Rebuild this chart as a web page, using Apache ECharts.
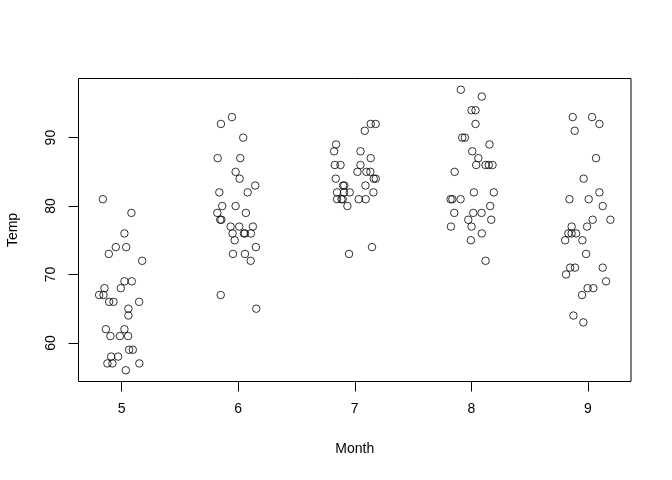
<!DOCTYPE html>
<html>
<head>
<meta charset="utf-8">
<title>Temp by Month</title>
<script src="https://cdn.jsdelivr.net/npm/echarts@6/dist/echarts.min.js"></script>
<style>
  html, body { margin: 0; padding: 0; background: #fff; }
  #chart { width: 672px; height: 480px; }
</style>
</head>
<body>
<div id="chart"></div>
<script>
// temperatures per month, with the jittered month position each point was drawn at
const mayTemp = [81, 79, 76, 74, 74, 73, 72, 69, 69, 68, 68, 67, 67, 66, 66, 66, 65, 64, 62, 62, 61, 61, 61, 59, 59, 58, 58, 57, 57, 57, 56]
const mayX = [4.839, 5.084, 5.024, 4.950, 5.039, 4.890, 5.176, 5.024, 5.087, 4.853, 4.993, 4.807, 4.844, 4.893, 4.930, 5.150, 5.058, 5.058, 4.865, 5.024, 4.904, 4.985, 5.056, 5.064, 5.096, 4.910, 4.970, 4.878, 4.921, 5.152, 5.036]

const junTemp = [93, 92, 90, 87, 87, 85, 84, 83, 82, 82, 80, 80, 79, 79, 78, 78, 77, 77, 77, 76, 76, 76, 76, 75, 74, 73, 73, 72, 67, 65]
const junX = [5.946, 5.852, 6.043, 5.824, 6.018, 5.978, 6.012, 6.146, 5.838, 6.081, 5.863, 5.978, 5.821, 6.066, 5.846, 5.856, 5.935, 6.009, 6.126, 5.952, 6.049, 6.058, 6.109, 5.970, 6.152, 5.955, 6.058, 6.107, 5.850, 6.155]

const julTemp = [92, 92, 91, 89, 88, 88, 87, 86, 86, 86, 85, 85, 85, 84, 84, 84, 83, 83, 83, 82, 82, 82, 82, 81, 81, 81, 81, 81, 80, 74, 73]
const julX = [7.137, 7.180, 7.086, 6.840, 6.823, 7.049, 7.137, 6.829, 6.878, 7.049, 7.023, 7.100, 7.134, 6.837, 7.163, 7.180, 6.900, 6.910, 7.092, 6.848, 6.908, 6.957, 7.160, 6.848, 6.886, 6.897, 7.034, 7.094, 6.937, 7.148, 6.951]

const augTemp = [97, 96, 94, 94, 92, 90, 90, 89, 88, 87, 86, 86, 86, 86, 85, 82, 82, 81, 81, 81, 80, 79, 79, 79, 78, 78, 77, 77, 76, 75, 72]
const augX = [7.910, 8.090, 8.002, 8.036, 8.036, 7.922, 7.945, 8.156, 8.008, 8.060, 8.042, 8.122, 8.150, 8.182, 7.857, 8.022, 8.193, 7.822, 7.837, 7.908, 8.162, 7.854, 8.017, 8.088, 8.171, 7.974, 7.825, 8.002, 8.090, 7.996, 8.122]

const sepTemp = [93, 93, 92, 91, 87, 84, 82, 81, 81, 80, 78, 78, 77, 77, 76, 76, 76, 75, 75, 73, 71, 71, 71, 70, 69, 68, 68, 67, 64, 63]
const sepX = [8.870, 9.036, 9.099, 8.887, 9.070, 8.964, 9.099, 8.842, 9.007, 9.127, 9.041, 9.193, 8.993, 8.861, 8.833, 8.861, 8.899, 8.805, 8.953, 8.985, 9.127, 8.848, 8.890, 8.813, 9.156, 8.998, 9.047, 8.950, 8.876, 8.961]

const monthTicks = [5, 6, 7, 8, 9]
const tempTicks = [60, 70, 80, 90]

const points = []
const groups = [[mayX, mayTemp], [junX, junTemp], [julX, julTemp], [augX, augTemp], [sepX, sepTemp]]
groups.forEach(([xs, ys]) => {
  xs.forEach((x, i) => points.push([x, ys[i]]))
})

const font = 'Liberation Sans, Arial, sans-serif'

const chart = echarts.init(document.getElementById('chart'))

const option = {
  animation: false,
  grid: {
    left: 78.5,
    right: 41,
    top: 78.5,
    bottom: 98.5,
    outerBoundsMode: 'none',
    containLabel: false,
    show: true,
    borderColor: '#000',
    borderWidth: 1,
    backgroundColor: 'transparent'
  },
  xAxis: {
    type: 'value',
    min: 4.63,
    max: 9.37,
    name: 'Month',
    nameLocation: 'middle',
    nameGap: 61,
    nameTextStyle: { color: '#000', fontSize: 14, fontFamily: font },
    axisLine: { show: false },
    splitLine: { show: false },
    axisTick: {
      show: true,
      customValues: monthTicks,
      length: 10,
      lineStyle: { color: '#000', width: 1 }
    },
    axisLabel: {
      customValues: monthTicks,
      margin: 21,
      color: '#000',
      fontSize: 14,
      fontFamily: font
    }
  },
  yAxis: {
    type: 'value',
    min: 54.36,
    max: 98.64,
    name: 'Temp',
    nameLocation: 'middle',
    nameRotate: 90,
    nameGap: 58,
    nameTextStyle: { color: '#000', fontSize: 14, fontFamily: font },
    axisLine: { show: false },
    splitLine: { show: false },
    axisTick: {
      show: true,
      customValues: tempTicks,
      length: 10,
      lineStyle: { color: '#000', width: 1 }
    },
    axisLabel: {
      customValues: tempTicks,
      rotate: 90,
      margin: 20,
      color: '#000',
      fontSize: 14,
      fontFamily: font
    }
  },
  series: [
    {
      type: 'scatter',
      data: points,
      symbol: 'circle',
      symbolSize: 7.5,
      itemStyle: {
        color: 'rgba(0,0,0,0)',
        borderColor: '#000',
        borderWidth: 1
      },
      emphasis: { disabled: true }
    }
  ]
}

chart.setOption(option)
</script>
</body>
</html>
